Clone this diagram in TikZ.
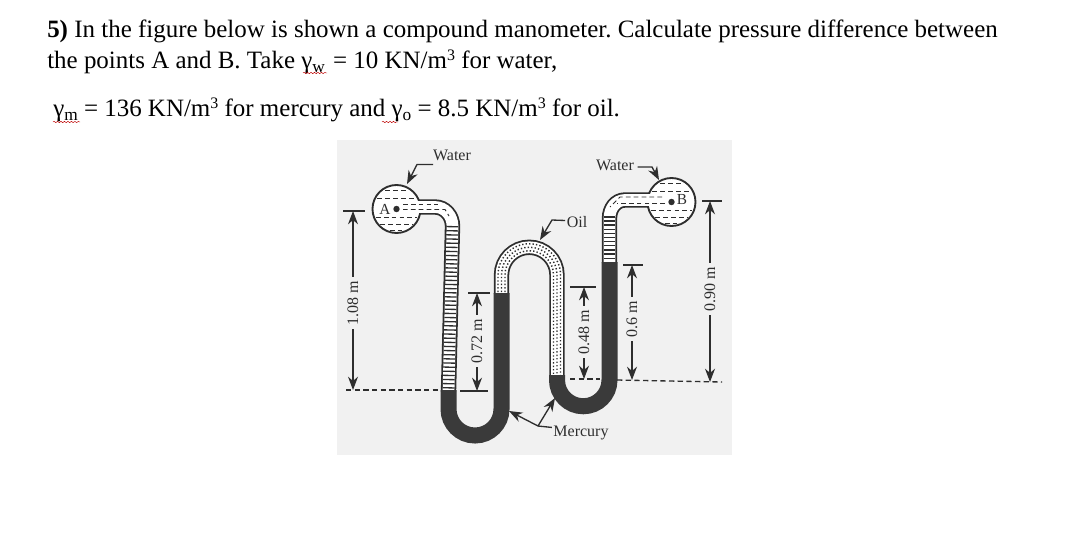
\documentclass[tikz,border=0pt]{standalone}
\usepackage{fontspec}
\setmainfont{Liberation Serif}
\usetikzlibrary{arrows.meta,decorations.pathmorphing}
\definecolor{ink}{HTML}{2E2E2E}
\definecolor{hg}{HTML}{3A3A3A}
\definecolor{paper}{HTML}{F1F1F1}
\newcommand{\ghead}{\fontsize{18.72pt}{22pt}\selectfont\frenchspacing}
\newcommand{\gam}[1]{γ\raisebox{-3.5pt}{\fontsize{13pt}{15pt}\selectfont #1}}
\newcommand{\cubed}{\raisebox{5.5pt}{\fontsize{12pt}{14pt}\selectfont 3}}
\tikzset{
 headline/.style={anchor=base west,inner sep=0pt,font=\ghead,text=black},
 lab/.style={font=\fontsize{12pt}{14pt}\selectfont,text=ink,inner sep=1pt},
 dimtext/.style={lab,rotate=90,inner sep=3pt},
 dimline/.style={draw=ink,line width=.9pt,-{Stealth[length=10pt,width=7.5pt]}},
 tick/.style={draw=ink,line width=1pt},
 dashrule/.style={draw=ink,line width=1pt,dash pattern=on 4pt off 2.5pt},
 leader/.style={draw=ink,line width=1pt,-{Stealth[length=10pt,width=7.5pt]}},
 tubeout/.style={draw=ink,line width=11.5pt},
 tubein/.style={draw=white,line width=8.8pt},
 hgtube/.style={draw=hg,line width=12pt},
 stripes/.style={draw=ink,line width=8.8pt,dash pattern=on 1pt off 2.1pt},
 wdash/.style={draw=ink,line width=.7pt,dash pattern=on 3.5pt off 2.4pt},
 odots/.style={draw=ink,line width=1.1pt,dash pattern=on 1pt off 1.6pt},
 vessel/.style={circle,draw=ink,line width=1.4pt,fill=white,minimum size=36pt,inner sep=0pt},
 squig/.style={draw=red!75!black,line width=.35pt,decorate,decoration={snake,amplitude=.5pt,segment length=2.6pt}}
}
\begin{document}
\begin{tikzpicture}[x=.75pt,y=-.75pt]
\useasboundingbox (0,0) rectangle (1080,536);
\fill[white] (0,0) rectangle (1080,536);
\fill[paper] (337,140) rectangle (732,455);

% headline
\node[headline] (l1) at (47,37) {\textbf{5)} In the figure below is shown a compound manometer. Calculate pressure difference between};
\node[headline] (l2) at (47,68) {the points A and B. Take \gam{w}\hspace{1.5pt} = 10 KN/m\cubed{} for water,};
\node[headline] (l3) at (53,116) {\gam{m} = 136 KN/m\cubed{} for mercury and \gam{o} = 8.5 KN/m\cubed{} for oil.};
\draw[squig] (303,73) -- (327,73);
\draw[squig] (53,122) -- (80,122);
\draw[squig] (382,122) -- (398,122);

% tube outlines
\draw[tubeout] (415,207) -- (435,207) to[out=0,in=90] (452.5,226) -- (448.5,392);
\draw[tubeout] (501.5,294) -- (501.5,275) arc[start angle=180,end angle=360,radius=27.75] -- (557,376);
\draw[tubeout] (609.5,263) -- (609.5,218) to[out=90,in=180] (625,200) -- (652,200);

% vessels
\node[vessel] (A) at (396.5,209) {};
\node[vessel] (B) at (671.5,202) {};
\foreach \cx/\cy in {396.5/209,671.5/202}{
 \foreach \d in {-19,-11,8,15,21}{
  \pgfmathsetmacro{\hc}{sqrt(22*22-\d*\d)}
  \draw[wdash] (\cx-\hc,\cy+\d) -- (\cx+\hc,\cy+\d);
 }
}

% tube interiors
\draw[tubein] (412,207) -- (435,207) to[out=0,in=90] (452.5,226) -- (448.5,392);
\draw[tubein] (501.5,294) -- (501.5,275) arc[start angle=180,end angle=360,radius=27.75] -- (557,376);
\draw[tubein] (609.5,263) -- (609.5,218) to[out=90,in=180] (625,200) -- (655,200);

% water
\draw[stripes] (452.3,226) -- (448.5,392);
\draw[stripes] (609.5,263) -- (609.5,216);
\draw[wdash] (403,204) -- (438,204);
\draw[wdash] (403,209.5) -- (445,209.5) -- (449,216);
\draw[wdash] (662,197) -- (620,197) -- (610,207);
\draw[wdash] (665,203) -- (617,203);

% oil
\foreach \dr in {-3.5,0,3.5}{
 \draw[odots] (501.5-\dr,292) -- (501.5-\dr,275) arc[start angle=180,end angle=360,radius=27.75+\dr] -- (557+\dr,375);
}

% mercury
\draw[hgtube,line cap=butt] (448.5,390) -- (448.5,409) arc[start angle=180,end angle=0,radius=26.5] -- (501.5,293);
\draw[hgtube,line cap=butt] (557,375) -- (557,380) arc[start angle=180,end angle=0,radius=26.25] -- (609.5,262);

% points
\node[lab,inner sep=.5pt,font=\fontsize{11.5pt}{13pt}\selectfont] (Alab) at (385,209) {A};
\node[lab,fill=white,inner sep=.5pt,font=\fontsize{11.5pt}{13pt}\selectfont] (Blab) at (682,199.5) {B};
\fill[ink] (A.center) circle[radius=3.2];
\fill[ink] (B.center) circle[radius=3.2];

% labels with leaders
\node[lab] (w1) at (452,155) {Water};
\coordinate (w1a) at (417,164.5);
\coordinate (w1e) at (407,184);
\draw[leader] (433,164.5) -- (w1a) -- (w1e);
\node[lab] (w2) at (615,165) {Water};
\coordinate (w2a) at (652,167);
\coordinate (w2e) at (659,180);
\draw[leader] (w2.east) ++(2,2) -- (w2a) -- (w2e);
\node[lab] (oil) at (577,222.5) {Oil};
\coordinate (oa) at (552,220);
\coordinate (oe) at (540,240);
\draw[leader] (oil.west) ++(0,-2) -- (oa) -- (oe);
\node[lab] (hg) at (581,433) {Mercury};
\coordinate (ha) at (538,426);
\coordinate (he1) at (555,398);
\coordinate (he2) at (509,411);
\draw[tick] (hg.north west) ++(0,3) -- (ha);
\draw[leader] (ha) -- (he1);
\draw[leader] (ha) -- (he2);

% dimension ticks
\coordinate (d1t) at (353,211); \coordinate (d1b) at (353,390);
\coordinate (d2t) at (477,293); \coordinate (d2b) at (477,391);
\coordinate (d3t) at (584,287); \coordinate (d3b) at (584,379);
\coordinate (d4t) at (632,265); \coordinate (d4b) at (632,380);
\coordinate (d5t) at (710,201); \coordinate (d5b) at (710,382);
\draw[tick] (343,211) -- (365,211);
\draw[tick] (468,293) -- (490,293);
\draw[tick] (460,391) -- (488,391);
\draw[tick] (570,287) -- (596,287);
\draw[tick] (623,265) -- (643,265);
\draw[tick] (702,201) -- (722,201);
\draw[dashrule] (346,390) -- (438,390);
\draw[dashrule] (570,379) -- (600,379);
\draw[dashrule] (617,380) -- (722,382);

% dimension labels
\node[dimtext] (t1) at (353,303) {1.08 m};
\node[dimtext] (t2) at (477,341) {0.72 m};
\node[dimtext] (t3) at (584,332) {0.48 m};
\node[dimtext] (t4) at (632,319) {0.6 m};
\node[dimtext] (t5) at (710,289) {0.90 m};
\foreach \n/\a/\b in {t1/d1t/d1b,t2/d2t/d2b,t3/d3t/d3b,t4/d4t/d4b,t5/d5t/d5b}{
 \draw[dimline] (\n.east) -- (\a);
 \draw[dimline] (\n.west) -- (\b);
}
\end{tikzpicture}
\end{document}
